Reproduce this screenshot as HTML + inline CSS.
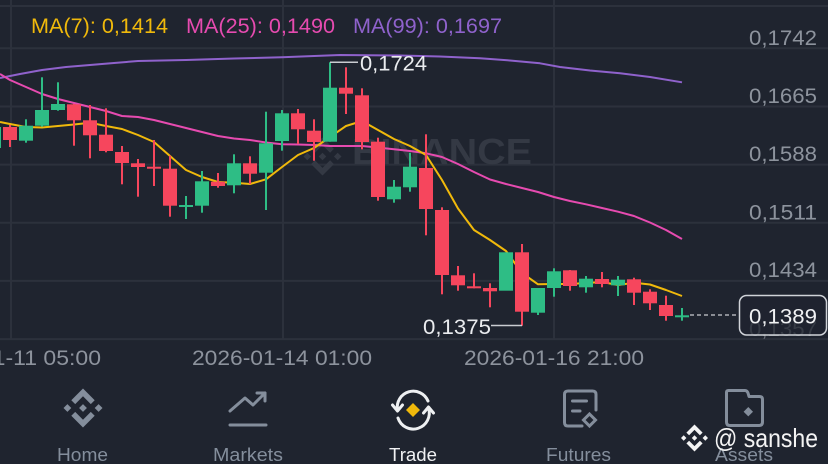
<!DOCTYPE html>
<html><head><meta charset="utf-8"><style>
html,body{margin:0;padding:0;background:#1f242f;}
svg{display:block;font-family:"Liberation Sans",Arial,sans-serif;}
</style></head><body>
<svg width="828" height="464" viewBox="0 0 828 464" xmlns="http://www.w3.org/2000/svg">
<rect width="828" height="464" fill="#1f242f"/>
<!-- grid -->
<g stroke="#2c313c" stroke-width="2">
<line x1="0" y1="6" x2="828" y2="6"/>
<line x1="0" y1="48.3" x2="828" y2="48.3"/>
<line x1="0" y1="106.5" x2="828" y2="106.5"/>
<line x1="0" y1="164.6" x2="828" y2="164.6"/>
<line x1="0" y1="222.8" x2="828" y2="222.8"/>
<line x1="0" y1="280.9" x2="828" y2="280.9"/>
<line x1="0" y1="339.1" x2="828" y2="339.1"/>
<line x1="11" y1="0" x2="11" y2="339"/>
<line x1="283" y1="0" x2="283" y2="339"/>
<line x1="554" y1="0" x2="554" y2="339"/>
</g>
<!-- watermark -->
<g fill="#343944">
<g transform="translate(322.5,156.5) scale(19)">
<polygon points="0,-0.2 0.2,0 0,0.2 -0.2,0"/>
<polygon points="-0.8,-0.2 -0.6,0 -0.8,0.2 -1,0"/>
<polygon points="0.8,-0.2 1,0 0.8,0.2 0.6,0"/>
<polygon points="0,-1 0.6,-0.4 0.4,-0.2 0,-0.6 -0.4,-0.2 -0.6,-0.4"/>
<polygon points="0,1 0.6,0.4 0.4,0.2 0,0.6 -0.4,0.2 -0.6,0.4"/>
</g>
<text x="352" y="164" font-size="36" font-weight="bold" textLength="180" lengthAdjust="spacingAndGlyphs">BINANCE</text>
</g>
<!-- legend -->
<g font-size="21">
<text x="31" y="33" fill="#f0b90b" textLength="137" lengthAdjust="spacingAndGlyphs">MA(7): 0,1414</text>
<text x="186" y="33" fill="#e64bb0" textLength="149" lengthAdjust="spacingAndGlyphs">MA(25): 0,1490</text>
<text x="353" y="33" fill="#8f62cc" textLength="149" lengthAdjust="spacingAndGlyphs">MA(99): 0,1697</text>
</g>
<!-- MA lines -->
<g fill="none" stroke-width="2" stroke-linejoin="round">
<polyline stroke="#8f62cc" points="0,78 20,74 42,70 66,67 90,65 114,63 138,61 162,60.5 186,60 234,58.5 282,57.3 340,55 400,55.5 440,56.5 480,58.3 510,60.5 540,63.3 560,67 590,70.5 620,73.3 650,77 682,82.3"/>
<polyline stroke="#e64bb0" points="0,74 10,80 26,87 42,94 58,99 74,103 90,107 106,111 122,116 138,117 154,120 170,124 186,128 202,132 218,136 234,138.5 250,140 266,142.5 282,144.3 298,144.5 314,145 330,146 346,146 362,146 378,147.5 394,149.3 410,151 426,153.3 442,157 458,164 474,172 490,179.5 506,184 522,188 538,192 554,197 570,201 586,204.3 602,208 618,211.7 634,216 650,222.5 666,230 682,239"/>
<polyline stroke="#f0b90b" points="0,122 10,124 26,127 42,127.5 58,126 74,124.5 90,122.7 106,126 122,129 138,135 154,142 170,156 186,170 202,177 218,182 234,182.7 250,184 266,179.3 282,167 298,155 314,148 330,137 346,126 362,121 378,130 394,139 410,146 426,155 442,180 458,208.5 474,230 490,240 506,251 522,273 538,284.3 554,284 570,284 586,283 602,282 618,285 634,282.7 650,284.5 666,290 682,296"/>
</g>
<!-- candles: green -->
<g fill="#2ebd85">
<rect x="-7" y="120" width="2" height="30"/><rect x="-13" y="127" width="14" height="21"/>
<rect x="25" y="119.3" width="2" height="23.4"/><rect x="19" y="125.7" width="14" height="15"/>
<rect x="41" y="77.3" width="2" height="49.4"/><rect x="35" y="110" width="14" height="15.7"/>
<rect x="57" y="82.3" width="2" height="28.4"/><rect x="51" y="104" width="14" height="6"/>
<rect x="185" y="196" width="2" height="23"/><rect x="179" y="205" width="14" height="2"/>
<rect x="201" y="171" width="2" height="41.7"/><rect x="195" y="181.3" width="14" height="24.4"/>
<rect x="233" y="154.3" width="2" height="39"/><rect x="227" y="163.3" width="14" height="22"/>
<rect x="265" y="111.7" width="2" height="98.3"/><rect x="259" y="143.3" width="14" height="29.4"/>
<rect x="281" y="110" width="2" height="40.7"/><rect x="275" y="113.3" width="14" height="27.7"/>
<rect x="329" y="62.3" width="2" height="79.4"/><rect x="323" y="87.7" width="14" height="54"/>
<rect x="393" y="180" width="2" height="22.7"/><rect x="387" y="186.7" width="14" height="12.6"/>
<rect x="409" y="152.7" width="2" height="39"/><rect x="403" y="166.7" width="14" height="20.6"/>
<rect x="499" y="252.3" width="14" height="38.4"/>
<rect x="537" y="288" width="2" height="27"/><rect x="531" y="288" width="14" height="24.7"/>
<rect x="553" y="268.3" width="2" height="28.4"/><rect x="547" y="271.3" width="14" height="16.7"/>
<rect x="585" y="276" width="2" height="16.7"/><rect x="579" y="278.7" width="14" height="8.6"/>
<rect x="617" y="276" width="2" height="20"/><rect x="611" y="279.7" width="14" height="5.6"/>
<rect x="681" y="308" width="2" height="12.7"/><rect x="675" y="315.3" width="14" height="2"/>
</g>
<!-- candles: red -->
<g fill="#f6465d">
<rect x="9" y="125" width="2" height="22"/><rect x="3" y="127" width="14" height="13"/>
<rect x="73" y="104" width="2" height="41.7"/><rect x="67" y="104.3" width="14" height="16"/>
<rect x="89" y="105" width="2" height="53.3"/><rect x="83" y="120.3" width="14" height="15"/>
<rect x="105" y="108.3" width="2" height="44"/><rect x="99" y="134.7" width="14" height="16.3"/>
<rect x="121" y="146" width="2" height="38.3"/><rect x="115" y="152" width="14" height="11"/>
<rect x="137" y="159" width="2" height="37.7"/><rect x="131" y="163.3" width="14" height="3.7"/>
<rect x="153" y="140" width="2" height="46"/><rect x="147" y="166.7" width="14" height="2"/>
<rect x="169" y="155.7" width="2" height="61"/><rect x="163" y="168.7" width="14" height="37"/>
<rect x="217" y="173" width="2" height="14.7"/><rect x="211" y="181.7" width="14" height="4.3"/>
<rect x="249" y="156.3" width="2" height="27.7"/><rect x="243" y="163.3" width="14" height="10.4"/>
<rect x="297" y="109" width="2" height="35"/><rect x="291" y="113.3" width="14" height="16"/>
<rect x="313" y="119.3" width="2" height="41.4"/><rect x="307" y="130.7" width="14" height="11.3"/>
<rect x="345" y="67.3" width="2" height="46.7"/><rect x="339" y="87.7" width="14" height="6"/>
<rect x="361" y="88.3" width="2" height="61"/><rect x="355" y="95.3" width="14" height="46.7"/>
<rect x="377" y="137.7" width="2" height="63"/><rect x="371" y="141.7" width="14" height="55.3"/>
<rect x="425" y="134.3" width="2" height="101"/><rect x="419" y="168" width="14" height="41"/>
<rect x="441" y="207.3" width="2" height="87"/><rect x="435" y="210" width="14" height="65"/>
<rect x="457" y="266" width="2" height="24.7"/><rect x="451" y="275.3" width="14" height="10"/>
<rect x="473" y="273.3" width="2" height="15"/><rect x="467" y="286.3" width="14" height="2"/>
<rect x="489" y="283.3" width="2" height="24"/><rect x="483" y="288" width="14" height="3.3"/>
<rect x="521" y="244" width="2" height="81.7"/><rect x="515" y="252.3" width="14" height="59.4"/>
<rect x="569" y="270" width="2" height="20.7"/><rect x="563" y="270.3" width="14" height="15.7"/>
<rect x="601" y="272" width="2" height="15.3"/><rect x="595" y="279" width="14" height="5"/>
<rect x="633" y="277.7" width="2" height="27.3"/><rect x="627" y="279.3" width="14" height="13.4"/>
<rect x="649" y="289.3" width="2" height="20.7"/><rect x="643" y="291.7" width="14" height="11.6"/>
<rect x="665" y="295.7" width="2" height="25"/><rect x="659" y="305" width="14" height="11"/>
</g>
<!-- high/low markers -->
<g stroke="#c9ccd1" stroke-width="1.5" fill="none">
<polyline points="330,62.3 358,62.3"/>
<polyline points="491,325.5 522,325.5"/>
</g>
<g font-size="21" fill="#eaecef">
<text x="360" y="70.7" textLength="67" lengthAdjust="spacingAndGlyphs">0,1724</text>
<text x="423" y="334" textLength="68" lengthAdjust="spacingAndGlyphs">0,1375</text>
</g>
<!-- price axis -->
<g font-size="21" fill="#8d939d" text-anchor="end">
<text x="817" y="45" textLength="68" lengthAdjust="spacingAndGlyphs">0,1742</text>
<text x="817" y="103" textLength="68" lengthAdjust="spacingAndGlyphs">0,1665</text>
<text x="817" y="161" textLength="68" lengthAdjust="spacingAndGlyphs">0,1588</text>
<text x="817" y="219.3" textLength="68" lengthAdjust="spacingAndGlyphs">0,1511</text>
<text x="817" y="277" textLength="68" lengthAdjust="spacingAndGlyphs">0,1434</text>
<text x="817" y="336" textLength="68" lengthAdjust="spacingAndGlyphs" fill="#6d727b">0,1357</text>
</g>
<!-- current price -->
<line x1="690" y1="315" x2="739" y2="315" stroke="#c9ccd1" stroke-width="1.3" stroke-dasharray="4,3"/>
<rect x="739.5" y="295.5" width="87" height="39.5" rx="7" fill="#1f242f" fill-opacity="0.7" stroke="#d0d3d8" stroke-width="1.5"/>
<text x="749" y="323.5" font-size="21" fill="#f0f1f3" textLength="68" lengthAdjust="spacingAndGlyphs">0,1389</text>
<!-- time axis -->
<g font-size="21" fill="#8d939d">
<text x="-79" y="365" textLength="180" lengthAdjust="spacingAndGlyphs">2026-01-11 05:00</text>
<text x="192" y="365" textLength="180" lengthAdjust="spacingAndGlyphs">2026-01-14 01:00</text>
<text x="464" y="365" textLength="180" lengthAdjust="spacingAndGlyphs">2026-01-16 21:00</text>
</g>
<!-- bottom nav icons -->
<g fill="#848e9c">
<g transform="translate(83,408) scale(19.5)">
<polygon points="0,-0.2 0.2,0 0,0.2 -0.2,0"/>
<polygon points="-0.8,-0.2 -0.6,0 -0.8,0.2 -1,0"/>
<polygon points="0.8,-0.2 1,0 0.8,0.2 0.6,0"/>
<polygon points="0,-1 0.6,-0.4 0.4,-0.2 0,-0.6 -0.4,-0.2 -0.6,-0.4"/>
<polygon points="0,1 0.6,0.4 0.4,0.2 0,0.6 -0.4,0.2 -0.6,0.4"/>
</g>
</g>
<g fill="none" stroke="#848e9c" stroke-width="3" stroke-linecap="round" stroke-linejoin="round">
<polyline points="230,411 245,398 253,405 265,393"/>
<polyline points="257,393 265,393 265,401"/>
<line x1="230" y1="425" x2="266" y2="425"/>
<path d="M582,426 H568 Q564.5,426 564.5,422.5 V394.5 Q564.5,391 568,391 H592.5 Q596,391 596,394.5 V410"/>
<line x1="572.5" y1="401" x2="586.5" y2="401"/>
<line x1="572.5" y1="411" x2="580" y2="411"/>
<path d="M726.5,396.5 V392.5 Q726.5,390.5 728.5,390.5 H745 Q747,390.5 748,393 L749,396.5 H759.5 Q762.5,396.5 762.5,399.5 V422 Q762.5,425.5 759,425.5 H730 Q726.5,425.5 726.5,422 Z"/>
</g>
<polygon points="589.5,414 595.5,420 589.5,426 583.5,420" fill="none" stroke="#848e9c" stroke-width="3"/>
<polygon points="748.3,407 753,411.7 748.3,416.4 743.6,411.7" fill="#848e9c"/>
<!-- trade icon -->
<g fill="none" stroke="#eef0f2" stroke-width="3" stroke-linecap="round" stroke-linejoin="round">
<path d="M397.5,410 A16,16 0 0 1 428,401"/>
<polyline points="392.5,405 397.5,411 402.5,405"/>
<path d="M428.5,408 A16,16 0 0 1 398,418"/>
<polyline points="423.5,413 428.5,407 433.5,413"/>
</g>
<polygon points="413,403 420,410 413,417 406,410" fill="#f0b90b"/>
<!-- nav labels -->
<g font-size="18" fill="#848e9c">
<text x="57" y="461" textLength="51" lengthAdjust="spacingAndGlyphs">Home</text>
<text x="213" y="461" textLength="70" lengthAdjust="spacingAndGlyphs">Markets</text>
<text x="389" y="461" textLength="48" lengthAdjust="spacingAndGlyphs" fill="#f0f1f3">Trade</text>
<text x="546" y="461" textLength="65" lengthAdjust="spacingAndGlyphs">Futures</text>
<text x="715" y="461" textLength="58" lengthAdjust="spacingAndGlyphs">Assets</text>
</g>
<!-- user watermark -->
<g fill="#f4f4f4">
<g transform="translate(694.5,438) scale(13.5)">
<polygon points="0,-0.2 0.2,0 0,0.2 -0.2,0"/>
<polygon points="-0.8,-0.2 -0.6,0 -0.8,0.2 -1,0"/>
<polygon points="0.8,-0.2 1,0 0.8,0.2 0.6,0"/>
<polygon points="0,-1 0.6,-0.4 0.4,-0.2 0,-0.6 -0.4,-0.2 -0.6,-0.4"/>
<polygon points="0,1 0.6,0.4 0.4,0.2 0,0.6 -0.4,0.2 -0.6,0.4"/>
</g>
<text x="714" y="447" font-size="26" textLength="104" lengthAdjust="spacingAndGlyphs">@ sanshe</text>
</g>
</svg>
</body></html>
